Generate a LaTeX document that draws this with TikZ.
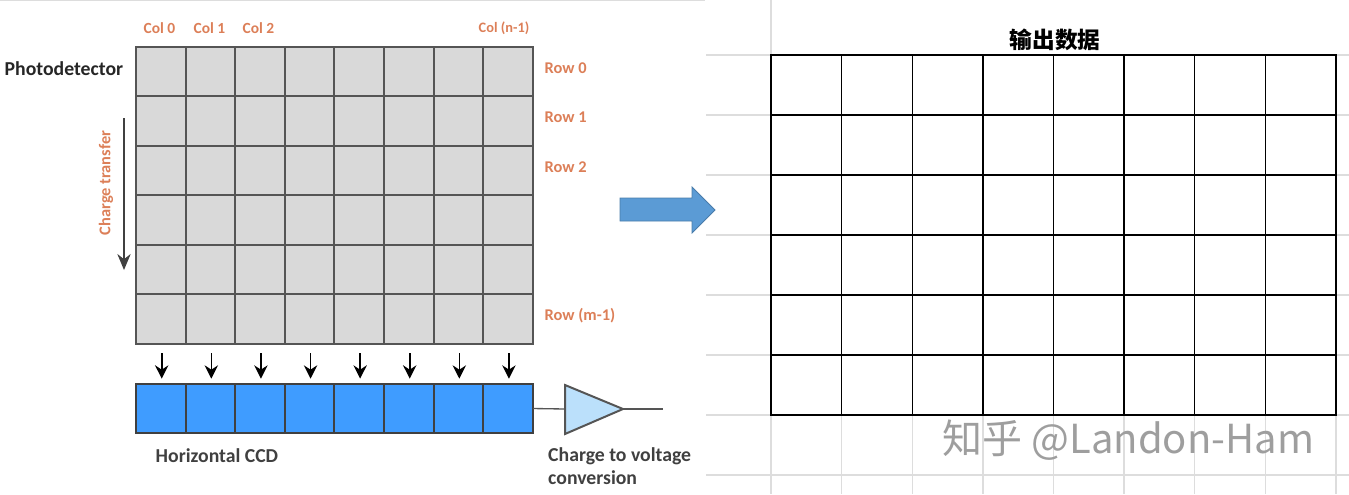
\documentclass[tikz,border=0pt]{standalone}
\usepackage{fontspec}
\setmainfont{Carlito}
\newfontfamily\cjkfont{Noto Sans CJK SC}
\usetikzlibrary{arrows.meta, positioning}

\definecolor{labelorange}{HTML}{DC7F58}
\definecolor{textdark}{HTML}{404040}
\definecolor{cellgray}{HTML}{D9D9D9}
\definecolor{cellline}{HTML}{555555}
\definecolor{ccdblue}{HTML}{3F9CFF}
\definecolor{ampblue}{HTML}{BBE0FB}
\definecolor{flowblue}{HTML}{5B9BD5}
\definecolor{sheetline}{HTML}{DDDDDD}

\tikzset{
    sensorcell/.style={draw=cellline, fill=cellgray, line width=1.5pt, inner sep=0, outer sep=0, minimum width=37.2pt, minimum height=37.15pt},
    ccdcell/.style={draw=textdark, fill=ccdblue, line width=1.5pt, inner sep=0, outer sep=0, minimum width=37.2pt, minimum height=36.75pt},
    datacell/.style={draw=black, line width=1pt, inner sep=0, outer sep=0, minimum width=52.97pt, minimum height=45pt},
    orangelabel/.style={text=labelorange, font=\fontsize{12.3}{14}\selectfont\bfseries},
    collabel/.style={text=labelorange, font=\fontsize{11.6}{14}\selectfont\bfseries},
    darklabel/.style={text=textdark, font=\fontsize{14.8}{17.3}\selectfont\bfseries, align=left},
    sheetgrid/.style={sheetline, line width=1pt},
    downarrow/.style={-{Stealth[length=10pt,width=10pt]}, line width=1.2pt, black}
}

\begin{document}
\begin{tikzpicture}[x=0.75pt, y=-0.75pt]
\useasboundingbox (0,0) rectangle (1349,494);

% Spreadsheet lines behind the output table
\draw[sheetgrid] (0,0) -- (705,0);
\draw[sheetgrid] (771,0) -- (771,55);
\foreach \y in {55,115,...,475}
    \draw[sheetgrid] (706,\y) -- (771,\y);
\foreach \y in {55,115,...,415}
    \draw[sheetgrid] (1336,\y) -- (1349,\y);
\draw[sheetgrid] (771,475) -- (1349,475);
\foreach \x in {0,...,8}
    \draw[sheetgrid] (771+\x*70.62,415) -- (771+\x*70.62,494);

% Photodetector array
\foreach \r in {0,...,5}
    \foreach \c in {0,...,7}
        \node[sensorcell] (pd\r-\c) at (160.8+\c*49.6,71.75+\r*49.5) {};

% Horizontal CCD
\foreach \c in {0,...,7}
    \node[ccdcell] (hccd\c) at (160.8+\c*49.6,408.5) {};

% Shift down into the CCD
\foreach \c in {0,...,7}
    \draw[downarrow, shorten <=7pt, shorten >=4pt] ([xshift=0.7pt]pd5-\c.south) -- ([xshift=0.7pt]hccd\c.north);

% Column and row labels
\node[collabel] (col0) at (159.5,28) {Col 0};
\node[collabel] (col1) at (209.5,28) {Col 1};
\node[collabel] (col2) at (258.5,28) {Col 2};
\node[collabel, font=\fontsize{10.8}{14}\selectfont\bfseries] (coln) at (504,28) {Col (n-1)};
\node[orangelabel, right] (row0) at (540,68) {Row 0};
\node[orangelabel, right] (row1) at (540,117) {Row 1};
\node[orangelabel, right] (row2) at (540,167) {Row 2};
\node[orangelabel, right] (rowm) at (540,316) {Row (m-1)};

\node[darklabel, text=black!85, right] (photo) at (0,69) {Photodetector};
\node[darklabel, right] (hlabel) at (151,456) {Horizontal CCD};

% Charge transfer
\node[orangelabel, rotate=90] (transfer) at (106,183) {Charge transfer};
\coordinate (transfertop) at (124,118);
\coordinate (transferend) at (124,270);
\draw[-{Stealth[length=12pt,width=10pt]}, line width=1.1pt, textdark] (transfertop) -- (transferend);

% Amplifier
\draw[fill=ampblue, draw=cellline, line width=1.5pt, line join=miter] (565,385) -- (623,409) -- (565,434) -- cycle;
\coordinate (ampin) at (565,409);
\coordinate (ampout) at (623,409);
\coordinate (ampend) at (663,409);
\draw[cellline, line width=1pt] (hccd7.east) -- (ampin);
\draw[cellline, line width=1pt] (ampout) -- (ampend);
\node[darklabel, right] (chargelabel) at (543.5,466) {Charge to voltage\\conversion};

% Big arrow
\draw[fill=flowblue, draw=flowblue!80!black, line width=0.6pt] (620,198) -- (692,198) -- (692,187) -- (715,210) -- (692,233) -- (692,221) -- (620,221) -- cycle;

% Output table
\node[font=\cjkfont\bfseries\fontsize{17}{19}\selectfont] (title) at (1055,40) {输出数据};
\foreach \r in {0,...,5}
    \foreach \c in {0,...,7}
        \node[datacell] (out\r-\c) at (806.3+\c*70.62,85+\r*60) {};

% Watermark
\node[right, text=black!38, font=\cjkfont\fontsize{30}{32}\selectfont] (mark) at (938,440) {知乎 @Landon-Ham};

\end{tikzpicture}
\end{document}
